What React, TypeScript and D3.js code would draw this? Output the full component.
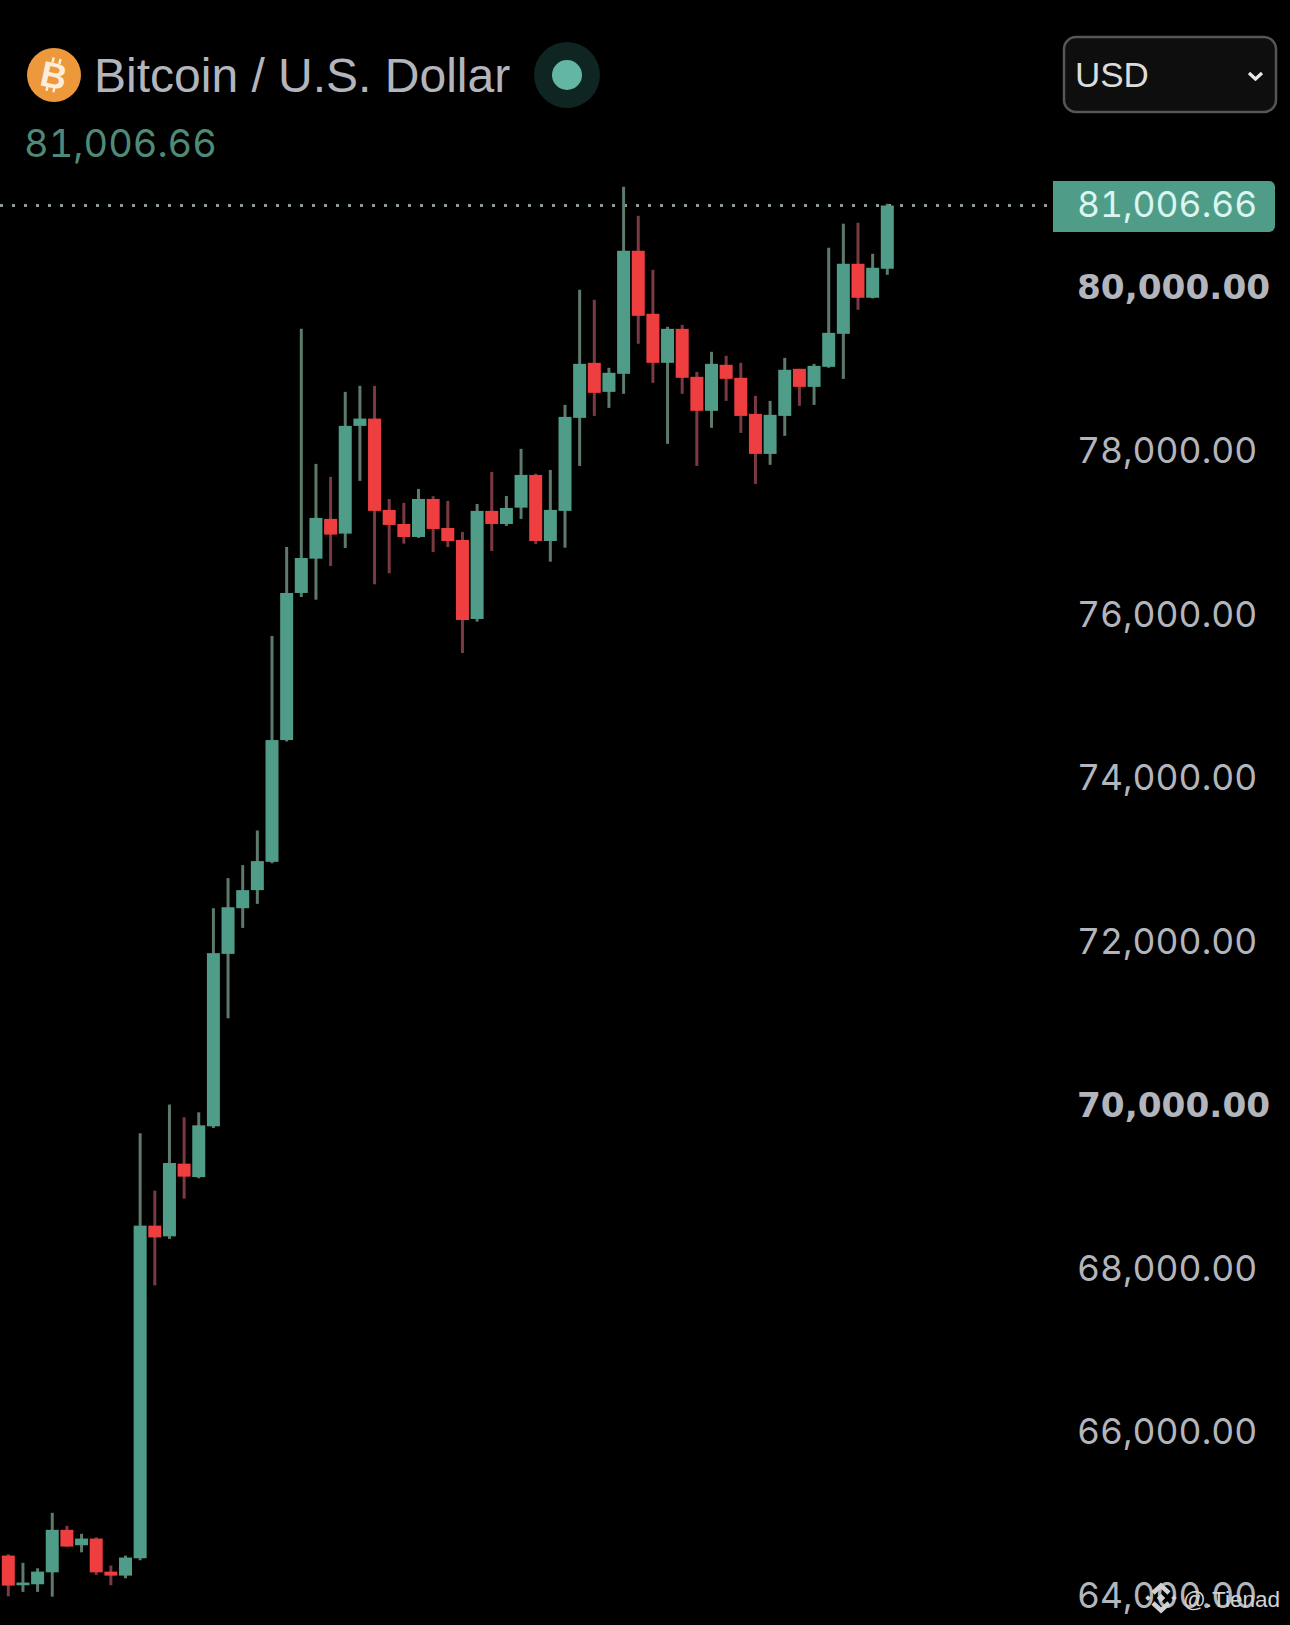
import React, { useEffect, useRef } from 'react';
import * as d3 from 'd3';

const WIDTH = 1290;
const HEIGHT = 1625;

const title = 'Bitcoin / U.S. Dollar';
const lastPrice = 81006.66;
const axisTicks = [80000, 78000, 76000, 74000, 72000, 70000, 68000, 66000, 64000];
const boldTicks = [80000, 70000];

const opens = [
    64492, 64129, 64141, 64287, 64807, 64618, 64700, 64296, 64247, 64459,
    68528, 68397, 69286, 69122, 69743, 71852, 72411, 72632, 72978, 74468,
    76267, 76687, 77173, 76993, 78311, 78400, 77283, 77111, 76952, 77417,
    77062, 76916, 75949, 77271, 77111, 77311, 77711, 76903, 77271, 78409,
    79082, 78727, 78948, 80453, 79682, 79082, 79498, 78911, 78495, 79058,
    78899, 78458, 77968, 78433, 79009, 78788, 79033, 79437, 80294, 79878,
    80233,
];
const closes = [
    64125, 64162, 64296, 64807, 64602, 64700, 64287, 64247, 64468, 68528,
    68384, 69294, 69127, 69755, 71861, 72423, 72632, 72987, 74468, 76267,
    76695, 77185, 76981, 78311, 78400, 77271, 77099, 76952, 77417, 77050,
    76903, 75936, 77271, 77111, 77307, 77711, 76903, 77283, 78421, 79070,
    78715, 78960, 80453, 79657, 79082, 79498, 78899, 78495, 79070, 78886,
    78433, 77968, 78446, 78997, 78788, 79045, 79449, 80294, 79878, 80245,
    81006.66,
];
const highs = [
    64508, 64403, 64337, 65015, 64856, 64758, 64716, 64370, 64492, 69657,
    68956, 70009, 69853, 69914, 72411, 72779, 72938, 73362, 75741, 76830,
    79498, 77846, 77687, 78727, 78801, 78801, 77417, 77369, 77540, 77451,
    77393, 77014, 77356, 77748, 77454, 78030, 77727, 77772, 78568, 79976,
    79853, 79021, 81236, 80881, 80220, 79523, 79547, 78972, 79217, 79168,
    79082, 78678, 78617, 79143, 79009, 79070, 80490, 80784, 80796, 80416,
    81028,
];
const lows = [
    63994, 64048, 64048, 63990, 64602, 64532, 64256, 64129, 64214, 64435,
    67797, 68364, 68858, 69107, 69722, 71065, 72170, 72464, 72960, 74450,
    76218, 76185, 76597, 76818, 77638, 76373, 76508, 76870, 76940, 76769,
    76830, 75533, 75916, 76781, 77087, 77173, 76867, 76650, 76821, 77821,
    78433, 78531, 78703, 79315, 78837, 78091, 78703, 77821, 78287, 78617,
    78225, 77601, 77834, 78189, 78556, 78568, 79021, 78886, 79731, 79870,
    80159,
];

const GREEN = '#4f9c89';
const RED = '#ee3e3f';
const GREEN_WICK = '#5d7a6b';
const RED_WICK = '#7b3a41';
const GREY = '#b3b5bd';

const fmt = d3.format(',.2f');

const App: React.FC = () => {
    const svgRef = useRef<SVGSVGElement>(null);

    useEffect(() => {
        if (!svgRef.current) return;
        document.body.style.margin = '0';
        document.body.style.background = '#000';

        const svg = d3.select(svgRef.current);
        svg.selectAll('*').remove();

        svg.append('rect').attr('width', WIDTH).attr('height', HEIGHT).attr('fill', '#000');

        const x = d3.scaleLinear().domain([0, opens.length - 1]).range([8.3, 887.3]);
        const y = d3.scaleLinear().domain([64000, 80000]).range([1595.8, 287.8]);

        // Header
        const icon = svg.append('g').attr('transform', 'translate(54,75)');
        icon.append('circle').attr('r', 27).attr('fill', '#ee983c');
        icon.append('text')
            .attr('transform', 'rotate(12)')
            .attr('text-anchor', 'middle')
            .attr('y', 13)
            .attr('fill', '#fbeeda')
            .style('font-family', '"Liberation Sans", sans-serif')
            .style('font-weight', 700)
            .style('font-size', '36px')
            .text('B');
        [-4, 3].forEach(dx => {
            icon.append('line').attr('transform', 'rotate(12)')
                .attr('x1', dx).attr('x2', dx).attr('y1', -17).attr('y2', 17)
                .attr('stroke', '#fbeeda').attr('stroke-width', 2.5)
                .attr('stroke-dasharray', '5 24');
        });

        svg.append('text')
            .attr('x', 94)
            .attr('y', 92)
            .attr('fill', GREY)
            .style('font-family', '"Liberation Sans", sans-serif')
            .style('font-size', '48px')
            .text(title);

        svg.append('circle').attr('cx', 567).attr('cy', 75).attr('r', 33).attr('fill', '#0f2522');
        svg.append('circle').attr('cx', 567).attr('cy', 75).attr('r', 15).attr('fill', '#63b6a4');

        svg.append('text')
            .attr('x', 24)
            .attr('y', 157)
            .attr('fill', '#4f8a78')
            .style('font-family', 'Inter, sans-serif')
            .style('font-variant-numeric', 'tabular-nums')
            .style('font-size', '38px')
            .text(fmt(lastPrice));

        // Currency select
        svg.append('rect')
            .attr('x', 1064).attr('y', 37).attr('width', 212).attr('height', 75).attr('rx', 12)
            .attr('fill', '#0e0e0f').attr('stroke', '#55565a').attr('stroke-width', 2.5);
        svg.append('text')
            .attr('x', 1075).attr('y', 87)
            .attr('fill', '#dcdcdc')
            .style('font-family', '"Liberation Sans", sans-serif')
            .style('font-size', '35px')
            .text('USD');
        svg.append('path')
            .attr('d', d3.line()([[1249, 73], [1255.5, 79], [1262, 73]]) as string)
            .attr('fill', 'none').attr('stroke', '#e8e8e8').attr('stroke-width', 3.2);

        // Last price line
        svg.append('line')
            .attr('x1', 0).attr('x2', 1048)
            .attr('y1', y(lastPrice)).attr('y2', y(lastPrice))
            .attr('stroke', '#8f9a95').attr('stroke-width', 3)
            .attr('stroke-dasharray', '3 9');

        // Candles
        const idx = d3.range(opens.length);
        svg.append('g').selectAll('line').data(idx).enter().append('line')
            .attr('x1', d => x(d)).attr('x2', d => x(d))
            .attr('y1', d => y(highs[d])).attr('y2', d => y(lows[d]))
            .attr('stroke', d => closes[d] >= opens[d] ? GREEN_WICK : RED_WICK)
            .attr('stroke-width', 3);
        svg.append('g').selectAll('rect').data(idx).enter().append('rect')
            .attr('x', d => x(d) - 6.5)
            .attr('width', 13)
            .attr('y', d => y(Math.max(opens[d], closes[d])))
            .attr('height', d => Math.abs(y(opens[d]) - y(closes[d])))
            .attr('fill', d => closes[d] >= opens[d] ? GREEN : RED);

        // Price axis
        const axis = d3.axisRight(y)
            .tickValues(axisTicks)
            .tickSize(0)
            .tickPadding(0)
            .tickFormat(d => fmt(d as number));
        const axisG = svg.append('g')
            .attr('transform', 'translate(1077,0)')
            .call(axis);
        axisG.select('.domain').remove();
        axisG.selectAll<SVGTextElement, number>('text')
            .attr('fill', GREY)
            .style('font-family', d => boldTicks.includes(d) ? '"DejaVu Sans", sans-serif' : 'Inter, sans-serif')
            .style('font-variant-numeric', 'tabular-nums')
            .style('font-weight', d => boldTicks.includes(d) ? 700 : 400)
            .style('font-size', d => boldTicks.includes(d) ? '34.3px' : '35.5px');

        // Last price tag
        svg.append('path')
            .attr('d', 'M1053,181H1269a6,6 0 0 1 6,6V226a6,6 0 0 1 -6,6H1053Z')
            .attr('fill', GREEN);
        svg.append('text')
            .attr('x', 1077).attr('y', 217)
            .attr('fill', '#d9f6ef')
            .style('font-family', 'Inter, sans-serif')
            .style('font-variant-numeric', 'tabular-nums')
            .style('font-size', '35.5px')
            .text(fmt(lastPrice));

        // Watermark
        const mark = svg.append('g').attr('transform', 'translate(1161,1598)');
        mark.append('path')
            .attr('d', 'M-8,-5L0,-12.5L8,-5M-8,5L0,12.5L8,5')
            .attr('fill', 'none').attr('stroke', '#d2d2d2').attr('stroke-width', 4.5);
        ([[0, 0, 6], [-13, 0, 4], [13, 0, 4]] as [number, number, number][]).forEach(([dx, dy, s]) => {
            mark.append('rect')
                .attr('x', -s / 2).attr('y', -s / 2).attr('width', s).attr('height', s)
                .attr('fill', '#d2d2d2')
                .attr('transform', `translate(${dx},${dy}) rotate(45)`);
        });
        svg.append('text')
            .attr('x', 1183).attr('y', 1607)
            .attr('fill', '#d2d2d2')
            .style('font-family', '"Liberation Sans", sans-serif')
            .style('font-size', '22.5px')
            .text('@.Tienad');
    }, []);

    return <svg ref={svgRef} width={WIDTH} height={HEIGHT} viewBox={`0 0 ${WIDTH} ${HEIGHT}`} style={{ display: 'block' }} />;
};

export default App;
